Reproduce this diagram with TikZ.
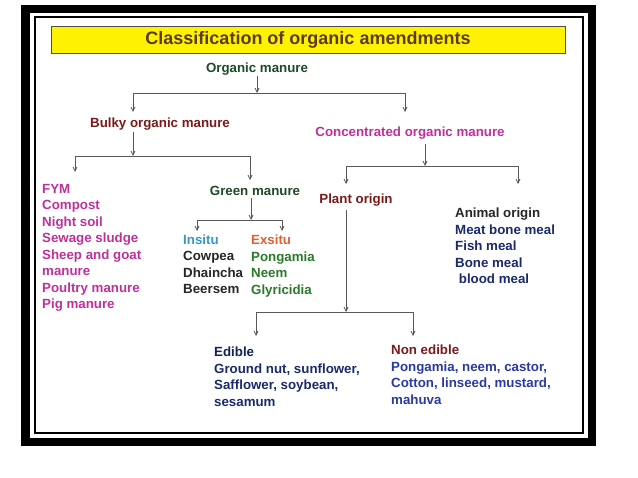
\documentclass[tikz,border=0pt]{standalone}
\usepackage{fontspec}
\setmainfont{Liberation Sans}
\usetikzlibrary{arrows.meta}
\definecolor{mag}{HTML}{C0309A}
\definecolor{dred}{HTML}{7A1A1A}
\definecolor{dgreen}{HTML}{1F4A2A}
\definecolor{navy}{HTML}{1A2A6A}
\definecolor{ttl}{HTML}{5A3A20}
\definecolor{insit}{HTML}{3399CC}
\definecolor{exsit}{HTML}{E06030}
\definecolor{grn}{HTML}{2A7A2A}
\definecolor{blu}{HTML}{2A3AA0}
\begin{document}
\begin{tikzpicture}[x=1pt,y=-1pt,
  lab/.style={font=\bfseries\fontsize{13.3}{16.5}\selectfont, inner sep=0pt},
  lst/.style={lab, anchor=north west, align=left},
  conn/.style={draw=black!65, line width=0.8pt},
  arr/.style={conn, -{Straight Barb[length=4pt,width=4pt]}}]
\useasboundingbox (0,0) rectangle (638,478);
\fill[black] (21,5) rectangle (596,446);
\fill[white] (30,13) rectangle (588,438);
\draw[black, line width=2pt] (35,17) rectangle (583,433);
\node[draw=black!70, fill=yellow, minimum width=514pt, minimum height=27pt, text=ttl,
  font=\bfseries\fontsize{18}{20}\selectfont] (title) at (308,39.5) {Classification of organic amendments};
\node[lab, text=dgreen] (om) at (257,69) {Organic manure};
\node[lab, text=dred] (bulky) at (160,124) {Bulky organic manure};
\node[lab, text=mag] (conc) at (410,133) {Concentrated organic manure};
\node[lst, text=mag] (fym) at (42,184) {FYM\\Compost\\Night soil\\Sewage sludge\\Sheep and goat\\manure\\Poultry manure\\Pig manure};
\node[lab, text=dgreen] (green) at (255,191) {Green manure};
\node[lab, text=dred] (plant) at (356,200) {Plant origin};
\node[lst, text=insit] (insitu) at (183,235) {Insitu};
\node[lst, text=exsit] (exsitu) at (251,235) {Exsitu};
\node[lst, text=black!85] (ins) at (183,251.5) {Cowpea\\Dhaincha\\Beersem};
\node[lst, text=grn] (exs) at (251,251.5) {Pongamia\\Neem\\Glyricidia};
\node[lst, text=black!85] (animal) at (455,208) {Animal origin};
\node[lst, text=navy] (anl) at (455,224.5) {Meat bone meal\\Fish meal\\Bone meal\\\ blood meal};
\node[lst, text=navy!80!black] (edible) at (214,347) {Edible};
\node[lst, text=navy] (edl) at (214,363.5) {Ground nut, sunflower,\\Safflower, soybean,\\sesamum};
\node[lst, text=dred] (nonedible) at (391,345) {Non edible};
\node[lst, text=blu] (nel) at (391,361.5) {Pongamia, neem, castor,\\Cotton, linseed, mustard,\\mahuva};
% level 1
\coordinate (j1) at (257,93);
\draw[arr] (257,76) -- (j1);
\draw[conn] (133,93) -- (405,93);
\draw[arr] (133,93) -- (133,112);
\draw[arr] (405,93) -- (405,112);
% bulky
\draw[arr] (133,132) -- (133,156);
\draw[conn] (75,156) -- (250,156);
\draw[arr] (75,156) -- (75,172);
\draw[arr] (250,156) -- (250,180);
% conc
\draw[arr] (425,144) -- (425,166);
\draw[conn] (346,166) -- (518,166);
\draw[arr] (346,166) -- (346,184);
\draw[arr] (518,166) -- (518,184);
% green
\draw[arr] (251,198) -- (251,220);
\draw[conn] (197,220) -- (282,220);
\draw[arr] (197,220) -- (197,231);
\draw[arr] (282,220) -- (282,231);
% plant
\draw[arr] (346,210) -- (346,312);
\draw[conn] (256,312) -- (413,312);
\draw[arr] (256,312) -- (256,336);
\draw[arr] (413,312) -- (413,336);
\end{tikzpicture}
\end{document}
